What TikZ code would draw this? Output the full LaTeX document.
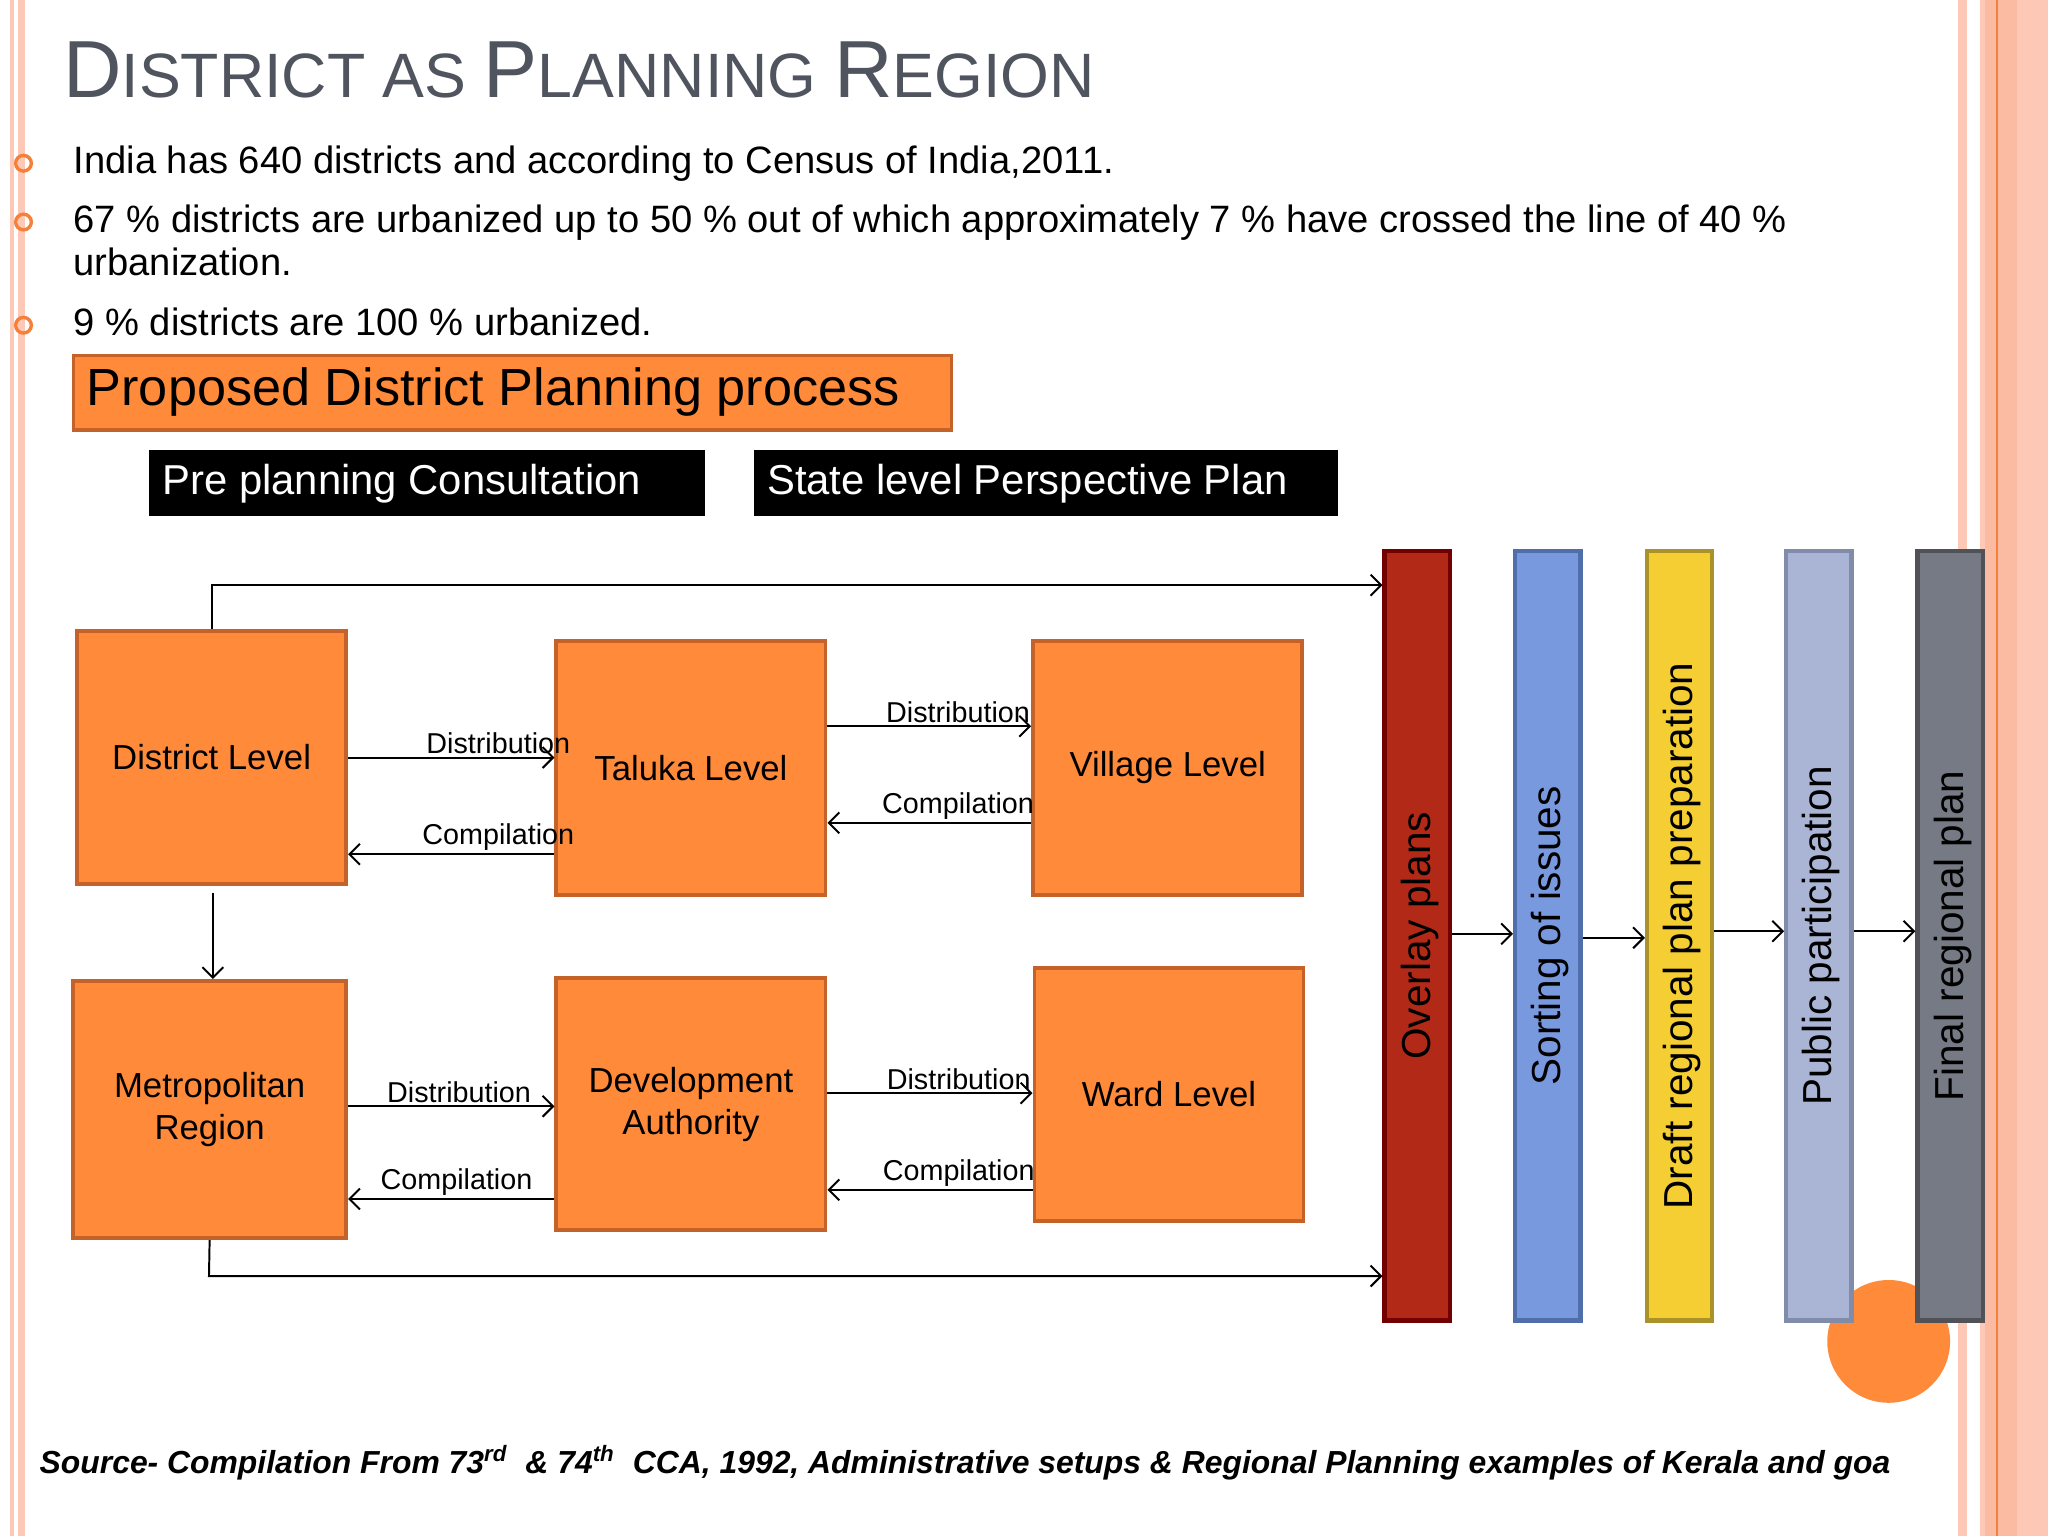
\documentclass[tikz,border=0pt]{standalone}
\usepackage{fontspec}
\setmainfont{Liberation Sans}
\usetikzlibrary{calc,arrows.meta}
\definecolor{salmon}{HTML}{FDC8B6}
\definecolor{salmond}{HTML}{FBBBA3}
\definecolor{ttl}{HTML}{50545F}
\definecolor{org}{HTML}{FF8A3A}
\definecolor{orgb}{HTML}{C4622A}
\definecolor{bul}{HTML}{F5803A}
\begin{document}
\begin{tikzpicture}[x=0.5pt,y=-0.5pt,
  lvl/.style={draw=orgb,line width=1.5pt,fill=org,align=center,font=\fontsize{13.3}{16}\selectfont,minimum width=103pt,minimum height=97pt,inner sep=2pt},
  bar/.style={line width=1.6pt,minimum width=25pt,minimum height=294.5pt,inner sep=0pt},
  bartxt/.style={rotate=90,font=\fontsize{15.5}{18}\selectfont},
  arr/.style={-{Straight Barb[length=4pt,width=8pt]},line width=0.75pt},
  lab/.style={font=\fontsize{11}{13}\selectfont,inner sep=1pt,above},
  bt/.style={anchor=base west,font=\fontsize{14.6}{17}\selectfont,inner sep=0pt},
  bdot/.style={circle,draw=bul,line width=1.3pt,minimum size=6pt,inner sep=0pt}]
\useasboundingbox (0,0) rectangle (1568,1176);
\fill[white] (0,0) rectangle (1568,1176);
% side stripes
\fill[salmon] (8,0) rectangle (11,1176);
\fill[salmon] (14,0) rectangle (19,1176);
\fill[salmon] (1499,0) rectangle (1506,1176);
\fill[salmon] (1516,0) rectangle (1568,1176);
\fill[salmond] (1520,0) rectangle (1544,1176);
\draw[bul,line width=0.6pt] (1529,0) -- (1529,1176);
% title
\node[anchor=base west,text=ttl,inner sep=0pt] (title) at (48,75)
 {\fontsize{31}{36}\selectfont D\fontsize{24}{28}\selectfont ISTRICT AS \fontsize{31}{36}\selectfont P\fontsize{24}{28}\selectfont LANNING \fontsize{31}{36}\selectfont R\fontsize{24}{28}\selectfont EGION};
% bullets
\node[bdot] (d1) at (18,125) {};
\node[bdot] (d2) at (18,170) {};
\node[bdot] (d3) at (18,249) {};
\node[bt] (t1) at (56,133) {India has 640 districts and according to Census of India,2011.};
\node[bt] (t2) at (56,178) {67 \% districts are urbanized up to 50 \% out of which approximately 7 \% have crossed the line of 40 \%};
\node[bt] (t2b) at (56,211) {urbanization.};
\node[bt] (t3) at (56,257) {9 \% districts are 100 \% urbanized.};
% header
\node[draw=orgb,line width=1.3pt,fill=org,minimum width=336pt,minimum height=28.5pt,anchor=north west,inner sep=0pt] (hdr) at (55,271) {};
\node[anchor=west,font=\fontsize{20}{24}\selectfont,inner sep=0pt] (hdrt) at (66,300) {Proposed District Planning process};
\node[fill=black,text=white,minimum width=212.5pt,minimum height=25.5pt,anchor=north west,inner sep=0pt] (pre) at (114,344) {};
\node[anchor=west,text=white,font=\fontsize{16}{19}\selectfont,inner sep=0pt] (pret) at (124,370) {Pre planning Consultation};
\node[fill=black,text=white,minimum width=223.5pt,minimum height=25.5pt,anchor=north west,inner sep=0pt] (st) at (577,344) {};
\node[anchor=west,text=white,font=\fontsize{16}{19}\selectfont,inner sep=0pt] (stt) at (587,370) {State level Perspective Plan};
% circle
\fill[org] (1446,1027) circle (23.5pt);
% level boxes
\node[lvl] (dist) at (162,580) {District Level};
\node[lvl] (tal) at (529,588) {Taluka Level};
\node[lvl] (vil) at (894,588) {Village Level};
\node[lvl,minimum width=104.5pt,minimum height=98.5pt] (met) at (160.5,849.5) {Metropolitan\\Region};
\node[lvl,minimum height=96.5pt] (dev) at (529,845.5) {Development\\Authority};
\node[lvl] (ward) at (895,838) {Ward Level};
% bars
\node[bar,draw=red!45!black,fill={rgb,255:red,178;green,42;blue,23}] (b1) at (1085,716.5) {};
\node[bar,draw={rgb,255:red,80;green,110;blue,170},fill={rgb,255:red,120;green,153;blue,221}] (b2) at (1185,716.5) {};
\node[bar,draw={rgb,255:red,170;green,145;blue,40},fill={rgb,255:red,244;green,206;blue,51}] (b3) at (1286,716.5) {};
\node[bar,draw={rgb,255:red,128;green,140;blue,170},fill={rgb,255:red,170;green,181;blue,214}] (b4) at (1392.5,716.5) {};
\node[bar,draw={rgb,255:red,80;green,82;blue,88},fill={rgb,255:red,118;green,122;blue,132}] (b5) at (1493,716.5) {};
\node[bartxt] (b1t) at (1087,716.5) {Overlay plans};
\node[bartxt] (b2t) at (1187,716.5) {Sorting of issues};
\node[bartxt] (b3t) at (1288,716.5) {Draft regional plan preparation};
\node[bartxt] (b4t) at (1394,716.5) {Public participation};
\node[bartxt] (b5t) at (1495,716.5) {Final regional plan};
% bar arrows
\draw[arr] (b1.east |- 0,715) -- (b2.west |- 0,715);
\draw[arr] (b2.east |- 0,718) -- (b3.west |- 0,718);
\draw[arr] (b3.east |- 0,713) -- (b4.west |- 0,713);
\draw[arr] (b4.east |- 0,713) -- (b5.west |- 0,713);
% level arrows
\draw[arr] (dist.east |- 0,580) -- node[lab,xshift=18pt]{Distribution} (tal.west |- 0,580);
\draw[arr] (tal.west |- 0,654) -- node[lab,xshift=18pt]{Compilation} (dist.east |- 0,654);
\draw[arr] (tal.east |- 0,556) -- node[lab,xshift=11pt]{Distribution} (vil.west |- 0,556);
\draw[arr] (vil.west |- 0,630) -- node[lab,xshift=11pt]{Compilation} (tal.east |- 0,630);
\draw[arr] (met.east |- 0,847) -- node[lab,xshift=3pt]{Distribution} (dev.west |- 0,847);
\draw[arr] (dev.west |- 0,918) -- node[lab,xshift=2pt]{Compilation} (met.east |- 0,918);
\draw[arr] (dev.east |- 0,837) -- node[lab,xshift=11pt]{Distribution} (ward.west |- 0,837);
\draw[arr] (ward.west |- 0,911) -- node[lab,xshift=11pt]{Compilation} (dev.east |- 0,911);
\draw[arr] (163,684) -- (met.north -| 163,0);
\draw[arr] (dist.north) -- (162,448) -- (b1.west |- 0,448);
\draw[arr] (met.south) -- (160,977) -- (b1.west |- 0,977);
% source
\node[anchor=base west,font=\bfseries\itshape\fontsize{12.2}{14}\selectfont,inner sep=0pt] (src) at (30,1128)
 {Source- Compilation From 73\textsuperscript{rd}\ \ \& 74\textsuperscript{th}\ \ CCA, 1992, Administrative setups \& Regional Planning examples of Kerala and goa};
\end{tikzpicture}
\end{document}
